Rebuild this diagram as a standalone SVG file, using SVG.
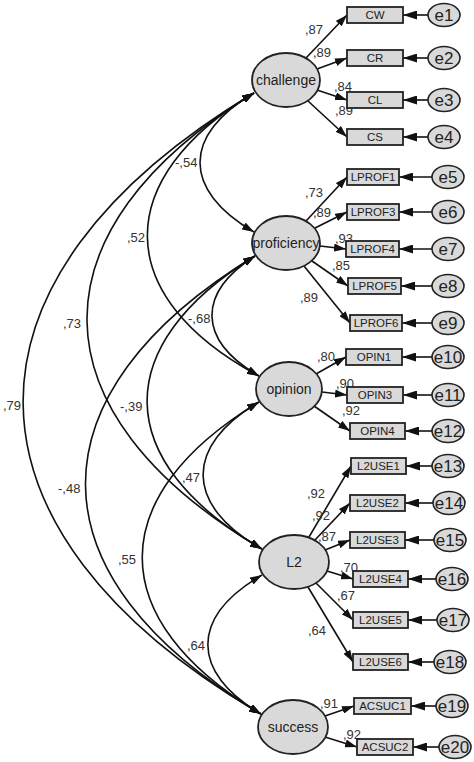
<svg xmlns="http://www.w3.org/2000/svg" width="474" height="762" viewBox="0 0 474 762">
<style>
.lat{fill:#d9d9d9;stroke:#222;stroke-width:1.8}
.box{fill:#d9d9d9;stroke:#222;stroke-width:1.8}
.err{fill:#d9d9d9;stroke:#222;stroke-width:1.6}
.latt{font-family:"Liberation Sans",Arial,sans-serif;font-size:14px;fill:#222;text-anchor:middle}
.boxt{font-family:"Liberation Sans",Arial,sans-serif;font-size:11.5px;fill:#222;text-anchor:middle}
.errt{font-family:"Liberation Sans",Arial,sans-serif;font-size:17px;fill:#222;text-anchor:middle}
.lbl{font-family:"Liberation Sans",Arial,sans-serif;font-size:13px;fill:#333}
.arc{fill:none;stroke:#111;stroke-width:1.6;marker-start:url(#ah);marker-end:url(#ah)}
.ld{fill:none;stroke:#111;stroke-width:1.6;marker-end:url(#ah)}
.ea{fill:none;stroke:#111;stroke-width:1.6;marker-end:url(#ahb)}
</style>
<defs>
<marker id="ah" viewBox="0 0 12 8" refX="12" refY="4" markerWidth="12" markerHeight="8" markerUnits="userSpaceOnUse" orient="auto-start-reverse">
<path d="M0,0 L12,4 L0,8 z" fill="#111"/>
</marker>
<marker id="ahb" viewBox="0 0 14 9" refX="14" refY="4.5" markerWidth="14" markerHeight="9" markerUnits="userSpaceOnUse" orient="auto">
<path d="M0,0 L14,4.5 L0,9 z" fill="#111"/>
</marker>
</defs>

<g id="connectors">
<!-- covariance arcs -->
<path class="arc" d="M254,93 C182,135 182,190 254,232"/>
<path class="arc" d="M254,93 C112,178 110,296 259,376"/>
<path class="arc" d="M254,93 C30,230 30,412 262,549"/>
<path class="arc" d="M254,93 C-55,278 -55,529 261,714"/>
<path class="arc" d="M255,256 C197,293 197,340 259,376"/>
<path class="arc" d="M255,256 C110,345 110,461 262,549"/>
<path class="arc" d="M255,256 C28,394 28,577 261,714"/>
<path class="arc" d="M259,402 C184,446 184,505 262,549"/>
<path class="arc" d="M259,402 C103,496 103,620 261,714"/>
<path class="arc" d="M262,575 C190,617 190,672 261,714"/>
<!-- loadings -->
<line class="ld" x1="306" y1="58" x2="347" y2="15"/>
<line class="ld" x1="317" y1="69" x2="347" y2="58"/>
<line class="ld" x1="317" y1="90" x2="347" y2="100"/>
<line class="ld" x1="308" y1="101" x2="347" y2="137"/>
<line class="ld" x1="306" y1="221" x2="347" y2="177"/>
<line class="ld" x1="315" y1="228" x2="347" y2="212"/>
<line class="ld" x1="320" y1="246" x2="346" y2="249"/>
<line class="ld" x1="312" y1="261" x2="348" y2="286"/>
<line class="ld" x1="304" y1="266" x2="350" y2="323"/>
<line class="ld" x1="316" y1="374" x2="346" y2="357"/>
<line class="ld" x1="322" y1="392" x2="347" y2="395"/>
<line class="ld" x1="314" y1="406" x2="350" y2="431"/>
<line class="ld" x1="309" y1="537" x2="351" y2="466"/>
<line class="ld" x1="315" y1="540" x2="350" y2="503"/>
<line class="ld" x1="325" y1="550" x2="350" y2="540"/>
<line class="ld" x1="327" y1="571" x2="353" y2="579"/>
<line class="ld" x1="316" y1="583" x2="353" y2="620"/>
<line class="ld" x1="308" y1="587" x2="353" y2="662"/>
<line class="ld" x1="325" y1="716" x2="354" y2="706"/>
<line class="ld" x1="325" y1="737" x2="357" y2="747"/>
<!-- error arrows -->
<line class="ea" x1="428" y1="15" x2="403" y2="15"/>
<line class="ea" x1="428" y1="58" x2="403" y2="58"/>
<line class="ea" x1="428" y1="100" x2="403" y2="100"/>
<line class="ea" x1="428" y1="137" x2="403" y2="137"/>
<line class="ea" x1="432" y1="177" x2="399" y2="177"/>
<line class="ea" x1="432" y1="212" x2="399" y2="212"/>
<line class="ea" x1="432" y1="249" x2="399" y2="249"/>
<line class="ea" x1="432" y1="286" x2="401" y2="286"/>
<line class="ea" x1="432" y1="323" x2="402" y2="323"/>
<line class="ea" x1="432" y1="357" x2="402" y2="357"/>
<line class="ea" x1="432" y1="395" x2="403" y2="395"/>
<line class="ea" x1="432" y1="431" x2="405" y2="431"/>
<line class="ea" x1="432" y1="466" x2="406" y2="466"/>
<line class="ea" x1="433" y1="503" x2="405" y2="503"/>
<line class="ea" x1="434" y1="540" x2="405" y2="540"/>
<line class="ea" x1="436" y1="579" x2="408" y2="579"/>
<line class="ea" x1="437" y1="620" x2="408" y2="620"/>
<line class="ea" x1="434" y1="662" x2="408" y2="662"/>
<line class="ea" x1="436" y1="706" x2="411" y2="706"/>
<line class="ea" x1="439" y1="747" x2="413" y2="747"/>
</g>

<g id="cov-labels">
<text class="lbl" x="175" y="167">-,54</text>
<text class="lbl" x="127" y="242">,52</text>
<text class="lbl" x="63" y="328">,73</text>
<text class="lbl" x="3" y="410">,79</text>
<text class="lbl" x="188" y="323">-,68</text>
<text class="lbl" x="120" y="411">-,39</text>
<text class="lbl" x="58" y="493">-,48</text>
<text class="lbl" x="182" y="482">,47</text>
<text class="lbl" x="118" y="564">,55</text>
<text class="lbl" x="187" y="650">,64</text>
</g>

<g id="load-labels">
<text class="lbl" x="305" y="34">,87</text>
<text class="lbl" x="313" y="57">,89</text>
<text class="lbl" x="334" y="91">,84</text>
<text class="lbl" x="335" y="115">,89</text>
<text class="lbl" x="305" y="197">,73</text>
<text class="lbl" x="313" y="217">,89</text>
<text class="lbl" x="335" y="243">,93</text>
<text class="lbl" x="332" y="270">,85</text>
<text class="lbl" x="300" y="302">,89</text>
<text class="lbl" x="317" y="361">,80</text>
<text class="lbl" x="336" y="388">,90</text>
<text class="lbl" x="342" y="415">,92</text>
<text class="lbl" x="307" y="498">,92</text>
<text class="lbl" x="312" y="520">,92</text>
<text class="lbl" x="318" y="541">,87</text>
<text class="lbl" x="340" y="572">,70</text>
<text class="lbl" x="337" y="600">,67</text>
<text class="lbl" x="308" y="635">,64</text>
<text class="lbl" x="320" y="708">,91</text>
<text class="lbl" x="343" y="739">,92</text>
</g>

<g id="challenge"><ellipse class="lat" cx="286" cy="80" rx="34" ry="27"/><text class="latt" x="286" y="85">challenge</text></g>
<g id="proficiency"><ellipse class="lat" cx="286" cy="243" rx="34" ry="27"/><text class="latt" x="286" y="248">proficiency</text></g>
<g id="opinion"><ellipse class="lat" cx="289" cy="389" rx="33" ry="27"/><text class="latt" x="289" y="394">opinion</text></g>
<g id="L2"><ellipse class="lat" cx="294" cy="562" rx="35" ry="27"/><text class="latt" x="294" y="567">L2</text></g>
<g id="success"><ellipse class="lat" cx="293" cy="727" rx="35" ry="27"/><text class="latt" x="293" y="732">success</text></g>

<g id="CW"><rect class="box" x="347" y="7" width="56" height="16"/><text class="boxt" x="375" y="19">CW</text></g>
<g id="CR"><rect class="box" x="347" y="50" width="56" height="16"/><text class="boxt" x="375" y="62">CR</text></g>
<g id="CL"><rect class="box" x="347" y="92" width="56" height="16"/><text class="boxt" x="375" y="104">CL</text></g>
<g id="CS"><rect class="box" x="347" y="129" width="56" height="16"/><text class="boxt" x="375" y="141">CS</text></g>
<g id="LPROF1"><rect class="box" x="347" y="169" width="52" height="16"/><text class="boxt" x="373" y="181">LPROF1</text></g>
<g id="LPROF3"><rect class="box" x="347" y="204" width="52" height="16"/><text class="boxt" x="373" y="216">LPROF3</text></g>
<g id="LPROF4"><rect class="box" x="346" y="241" width="53" height="16"/><text class="boxt" x="372.5" y="253">LPROF4</text></g>
<g id="LPROF5"><rect class="box" x="348" y="278" width="53" height="16"/><text class="boxt" x="374.5" y="290">LPROF5</text></g>
<g id="LPROF6"><rect class="box" x="350" y="315" width="52" height="16"/><text class="boxt" x="376" y="327">LPROF6</text></g>
<g id="OPIN1"><rect class="box" x="346" y="349" width="56" height="16"/><text class="boxt" x="374" y="361">OPIN1</text></g>
<g id="OPIN3"><rect class="box" x="347" y="387" width="56" height="16"/><text class="boxt" x="375" y="399">OPIN3</text></g>
<g id="OPIN4"><rect class="box" x="350" y="423" width="55" height="16"/><text class="boxt" x="377.5" y="435">OPIN4</text></g>
<g id="L2USE1"><rect class="box" x="351" y="458" width="55" height="16"/><text class="boxt" x="378.5" y="470">L2USE1</text></g>
<g id="L2USE2"><rect class="box" x="350" y="495" width="55" height="16"/><text class="boxt" x="377.5" y="507">L2USE2</text></g>
<g id="L2USE3"><rect class="box" x="350" y="532" width="55" height="16"/><text class="boxt" x="377.5" y="544">L2USE3</text></g>
<g id="L2USE4"><rect class="box" x="353" y="571" width="55" height="16"/><text class="boxt" x="380.5" y="583">L2USE4</text></g>
<g id="L2USE5"><rect class="box" x="353" y="612" width="55" height="16"/><text class="boxt" x="380.5" y="624">L2USE5</text></g>
<g id="L2USE6"><rect class="box" x="353" y="654" width="55" height="16"/><text class="boxt" x="380.5" y="666">L2USE6</text></g>
<g id="ACSUC1"><rect class="box" x="354" y="698" width="57" height="16"/><text class="boxt" x="382.5" y="710">ACSUC1</text></g>
<g id="ACSUC2"><rect class="box" x="357" y="739" width="56" height="16"/><text class="boxt" x="385" y="751">ACSUC2</text></g>

<g id="e1"><ellipse class="err" cx="444" cy="15" rx="16" ry="11.5"/><text class="errt" x="444" y="21">e1</text></g>
<g id="e2"><ellipse class="err" cx="444" cy="58" rx="16" ry="11.5"/><text class="errt" x="444" y="64">e2</text></g>
<g id="e3"><ellipse class="err" cx="444" cy="100" rx="16" ry="11.5"/><text class="errt" x="444" y="106">e3</text></g>
<g id="e4"><ellipse class="err" cx="444" cy="137" rx="16" ry="11.5"/><text class="errt" x="444" y="143">e4</text></g>
<g id="e5"><ellipse class="err" cx="448" cy="177" rx="16" ry="11.5"/><text class="errt" x="448" y="183">e5</text></g>
<g id="e6"><ellipse class="err" cx="448" cy="212" rx="16" ry="11.5"/><text class="errt" x="448" y="218">e6</text></g>
<g id="e7"><ellipse class="err" cx="448" cy="249" rx="16" ry="11.5"/><text class="errt" x="448" y="255">e7</text></g>
<g id="e8"><ellipse class="err" cx="448" cy="286" rx="16" ry="11.5"/><text class="errt" x="448" y="292">e8</text></g>
<g id="e9"><ellipse class="err" cx="448" cy="323" rx="16" ry="11.5"/><text class="errt" x="448" y="329">e9</text></g>
<g id="e10"><ellipse class="err" cx="448" cy="357" rx="16" ry="11.5"/><text class="errt" x="448" y="363">e10</text></g>
<g id="e11"><ellipse class="err" cx="448" cy="395" rx="16" ry="11.5"/><text class="errt" x="448" y="401">e11</text></g>
<g id="e12"><ellipse class="err" cx="448" cy="431" rx="16" ry="11.5"/><text class="errt" x="448" y="437">e12</text></g>
<g id="e13"><ellipse class="err" cx="448" cy="466" rx="16" ry="11.5"/><text class="errt" x="448" y="472">e13</text></g>
<g id="e14"><ellipse class="err" cx="449" cy="503" rx="16" ry="11.5"/><text class="errt" x="449" y="509">e14</text></g>
<g id="e15"><ellipse class="err" cx="450" cy="540" rx="16" ry="11.5"/><text class="errt" x="450" y="546">e15</text></g>
<g id="e16"><ellipse class="err" cx="452" cy="579" rx="16" ry="11.5"/><text class="errt" x="452" y="585">e16</text></g>
<g id="e17"><ellipse class="err" cx="453" cy="620" rx="16" ry="11.5"/><text class="errt" x="453" y="626">e17</text></g>
<g id="e18"><ellipse class="err" cx="450" cy="662" rx="16" ry="11.5"/><text class="errt" x="450" y="668">e18</text></g>
<g id="e19"><ellipse class="err" cx="452" cy="706" rx="16" ry="11.5"/><text class="errt" x="452" y="712">e19</text></g>
<g id="e20"><ellipse class="err" cx="455" cy="747" rx="16" ry="11.5"/><text class="errt" x="455" y="753">e20</text></g>
</svg>
